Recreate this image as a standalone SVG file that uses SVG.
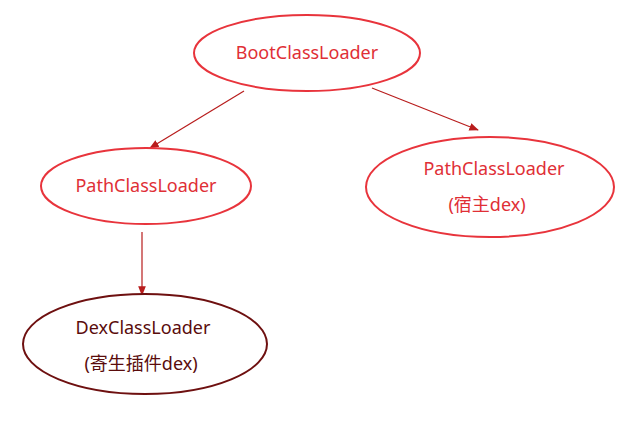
<svg xmlns="http://www.w3.org/2000/svg" width="640" height="427" viewBox="0 0 640 427">
<defs>
<style>
.r{fill:#fff;stroke:#e8343c;stroke-width:2}
.d{fill:#fff;stroke:#6e1010;stroke-width:2}
.t{font-family:"Noto Sans","Noto Sans CJK SC",sans-serif;font-size:18px;text-anchor:middle}
.tr{fill:#e02f36}
.td{fill:#5a0c0c}
.c{stroke:#b81c1c;stroke-width:1.2;fill:none;marker-end:url(#a)}
</style>
<marker id="a" viewBox="0 0 10 10" refX="9" refY="5" markerWidth="8" markerHeight="8" orient="auto"><path d="M0,1 L10,5 L0,9 z" fill="#b81c1c"/></marker>
</defs>
<rect width="640" height="427" fill="#fff"/>
<g id="connectors">
<line class="c" x1="244" y1="91" x2="150" y2="148"/>
<line class="c" x1="372" y1="88" x2="478" y2="130"/>
<line class="c" x1="142" y1="232" x2="142" y2="295"/>
</g>
<g id="boot"><ellipse class="r" cx="307" cy="53" rx="113" ry="38"/><text class="t tr" x="307" y="59">BootClassLoader</text></g>
<g id="path1"><ellipse class="r" cx="146" cy="186" rx="105" ry="38"/><text class="t tr" x="146" y="192">PathClassLoader</text></g>
<g id="path2"><ellipse class="r" cx="490" cy="187" rx="124" ry="50"/><text class="t tr" x="494" y="175">PathClassLoader</text><text class="t tr" x="487" y="211">(宿主dex)</text></g>
<g id="dex"><ellipse class="d" cx="145" cy="344" rx="122" ry="50"/><text class="t td" x="143" y="334">DexClassLoader</text><text class="t td" x="141" y="370">(寄生插件dex)</text></g>
</svg>
